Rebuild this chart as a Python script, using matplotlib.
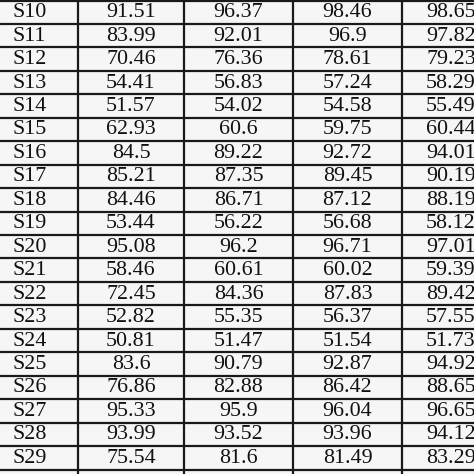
import matplotlib
matplotlib.use("Agg")
import matplotlib.pyplot as plt

labels = ["S10","S11","S12","S13","S14","S15","S16","S17","S18","S19",
          "S20","S21","S22","S23","S24","S25","S26","S27","S28","S29"]
col1 = ["91.51","83.99","70.46","54.41","51.57","62.93","84.5","85.21","84.46","53.44",
        "95.08","58.46","72.45","52.82","50.81","83.6","76.86","95.33","93.99","75.54"]
col2 = ["96.37","92.01","76.36","56.83","54.02","60.6","89.22","87.35","86.71","56.22",
        "96.2","60.61","84.36","55.35","51.47","90.79","82.88","95.9","93.52","81.6"]
col3 = ["98.46","96.9","78.61","57.24","54.58","59.75","92.72","89.45","87.12","56.68",
        "96.71","60.02","87.83","56.37","51.54","92.87","86.42","96.04","93.96","81.49"]
col4 = ["98.65","97.82","79.23","58.29","55.49","60.44","94.01","90.19","88.19","58.12",
        "97.01","59.39","89.42","57.55","51.73","94.92","88.65","96.65","94.12","83.29"]

fig = plt.figure(figsize=(4.74, 4.74), dpi=100)
fig.patch.set_facecolor("#f6f6f6")
ax = fig.add_axes([0, 0, 1, 1])
ax.set_xlim(0, 474)
ax.set_ylim(474, 0)
ax.axis("off")

top = 0.5
pitch = 23.45
vlines = [78, 184, 293, 402]
centers = [131, 238.5, 347.5, 451]
n = len(labels)
ys = [top + i * pitch for i in range(n + 1)]
ax.hlines(ys, 0, 474, color="#1a1a1a", lw=1.6)
ax.vlines(vlines, 0, 474, color="#1a1a1a", lw=1.6)

font = dict(family="Liberation Serif", fontsize=15.8, color="#111111", va="center")
for i in range(n):
    yc = top + (i + 0.5) * pitch + 0.5
    ax.text(13, yc, labels[i], ha="left", **font)
    for cx, col in zip(centers, [col1, col2, col3, col4]):
        ax.text(cx, yc, col[i], ha="center", **font)

fig.savefig("out.png", dpi=100, facecolor=fig.get_facecolor())
